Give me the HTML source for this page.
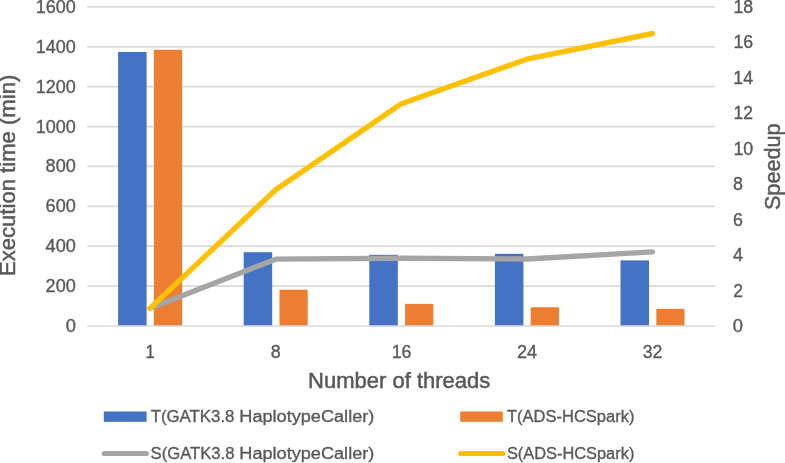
<!DOCTYPE html>
<html lang="en"><head><meta charset="utf-8"><title>Execution time and speedup</title>
<style>
html,body{margin:0;padding:0;background:#fff;overflow:hidden}
svg{display:block}
text{font-family:"Liberation Sans", Arial, Helvetica, sans-serif;fill:#595959;stroke:#595959;stroke-width:0.35px}
.tick{font-size:18px}
.leg{font-size:17.3px}
.ttl{font-size:21.7px;stroke-width:0.5px}
</style></head><body>
<svg width="785" height="463" viewBox="0 0 785 463">
<rect width="785" height="463" fill="#ffffff"/>

<line x1="87.3" x2="715.3" y1="286.11" y2="286.11" stroke="#d9d9d9" stroke-width="1.7"/>
<line x1="87.3" x2="715.3" y1="246.22" y2="246.22" stroke="#d9d9d9" stroke-width="1.7"/>
<line x1="87.3" x2="715.3" y1="206.34" y2="206.34" stroke="#d9d9d9" stroke-width="1.7"/>
<line x1="87.3" x2="715.3" y1="166.45" y2="166.45" stroke="#d9d9d9" stroke-width="1.7"/>
<line x1="87.3" x2="715.3" y1="126.56" y2="126.56" stroke="#d9d9d9" stroke-width="1.7"/>
<line x1="87.3" x2="715.3" y1="86.67" y2="86.67" stroke="#d9d9d9" stroke-width="1.7"/>
<line x1="87.3" x2="715.3" y1="46.79" y2="46.79" stroke="#d9d9d9" stroke-width="1.7"/>
<line x1="87.3" x2="715.3" y1="6.90" y2="6.90" stroke="#d9d9d9" stroke-width="1.7"/>
<rect x="118.10" y="51.97" width="28.5" height="274.03" fill="#4472c4"/>
<rect x="153.90" y="49.78" width="28.2" height="276.22" fill="#ed7d31"/>
<rect x="243.70" y="252.21" width="28.5" height="73.79" fill="#4472c4"/>
<rect x="279.50" y="289.70" width="28.2" height="36.30" fill="#ed7d31"/>
<rect x="369.30" y="254.80" width="28.5" height="71.20" fill="#4472c4"/>
<rect x="405.10" y="303.86" width="28.2" height="22.14" fill="#ed7d31"/>
<rect x="494.90" y="253.80" width="28.5" height="72.20" fill="#4472c4"/>
<rect x="530.70" y="307.25" width="28.2" height="18.75" fill="#ed7d31"/>
<rect x="620.50" y="260.39" width="28.5" height="65.61" fill="#4472c4"/>
<rect x="656.30" y="308.85" width="28.2" height="17.15" fill="#ed7d31"/>
<line x1="87.3" x2="715.3" y1="326.00" y2="326.00" stroke="#d9d9d9" stroke-width="1.7"/>
<polyline points="150.10,308.27 275.70,259.17 401.30,258.28 526.90,258.99 652.50,251.90" fill="none" stroke="#a5a5a5" stroke-width="5.4" stroke-linecap="round" stroke-linejoin="round"/>
<polyline points="150.10,308.27 275.70,189.67 401.30,103.69 526.90,59.20 652.50,33.49" fill="none" stroke="#ffc000" stroke-width="5.4" stroke-linecap="round" stroke-linejoin="round"/>
<text class="tick" x="65.68" y="332.00" textLength="10.20" lengthAdjust="spacingAndGlyphs">0</text>
<text class="tick" x="45.63" y="292.11" textLength="30.20" lengthAdjust="spacingAndGlyphs">200</text>
<text class="tick" x="45.57" y="252.22" textLength="30.26" lengthAdjust="spacingAndGlyphs">400</text>
<text class="tick" x="45.63" y="212.34" textLength="30.20" lengthAdjust="spacingAndGlyphs">600</text>
<text class="tick" x="45.61" y="172.45" textLength="30.22" lengthAdjust="spacingAndGlyphs">800</text>
<text class="tick" x="35.76" y="132.56" textLength="40.06" lengthAdjust="spacingAndGlyphs">1000</text>
<text class="tick" x="35.76" y="92.67" textLength="40.06" lengthAdjust="spacingAndGlyphs">1200</text>
<text class="tick" x="35.76" y="52.79" textLength="40.06" lengthAdjust="spacingAndGlyphs">1400</text>
<text class="tick" x="35.76" y="12.90" textLength="40.06" lengthAdjust="spacingAndGlyphs">1600</text>
<text class="tick" x="732.87" y="332.00" textLength="10.20" lengthAdjust="spacingAndGlyphs">0</text>
<text class="tick" x="733.13" y="296.54" textLength="9.67" lengthAdjust="spacingAndGlyphs">2</text>
<text class="tick" x="733.04" y="261.09" textLength="10.03" lengthAdjust="spacingAndGlyphs">4</text>
<text class="tick" x="733.11" y="225.63" textLength="9.91" lengthAdjust="spacingAndGlyphs">6</text>
<text class="tick" x="733.09" y="190.18" textLength="9.94" lengthAdjust="spacingAndGlyphs">8</text>
<text class="tick" x="733.38" y="154.72" textLength="19.80" lengthAdjust="spacingAndGlyphs">10</text>
<text class="tick" x="733.39" y="119.27" textLength="19.55" lengthAdjust="spacingAndGlyphs">12</text>
<text class="tick" x="733.37" y="83.81" textLength="19.82" lengthAdjust="spacingAndGlyphs">14</text>
<text class="tick" x="733.38" y="48.36" textLength="19.77" lengthAdjust="spacingAndGlyphs">16</text>
<text class="tick" x="733.38" y="12.90" textLength="19.77" lengthAdjust="spacingAndGlyphs">18</text>
<text class="tick" x="145.59" y="357.50" textLength="9.31" lengthAdjust="spacingAndGlyphs">1</text>
<text class="tick" x="270.82" y="357.50" textLength="9.94" lengthAdjust="spacingAndGlyphs">8</text>
<text class="tick" x="391.64" y="357.50" textLength="19.77" lengthAdjust="spacingAndGlyphs">16</text>
<text class="tick" x="516.96" y="357.50" textLength="20.10" lengthAdjust="spacingAndGlyphs">24</text>
<text class="tick" x="642.76" y="357.50" textLength="19.65" lengthAdjust="spacingAndGlyphs">32</text>
<text class="ttl" x="308.04" y="387.70" textLength="182.27" lengthAdjust="spacingAndGlyphs">Number of threads</text>
<g transform="translate(15.2,274.3) rotate(-90)"><text class="ttl" x="-1.77" y="0.00" textLength="201.37" lengthAdjust="spacingAndGlyphs">Execution time (min)</text></g>
<g transform="translate(780.3,209.0) rotate(-90)"><text class="ttl" x="-1.08" y="0.00" textLength="86.73" lengthAdjust="spacingAndGlyphs">Speedup</text></g>
<rect x="103.8" y="411.5" width="42.8" height="10.3" fill="#4472c4"/>
<rect x="460.2" y="411.5" width="42.6" height="10.3" fill="#ed7d31"/>
<line x1="104.3" x2="146.3" y1="453.5" y2="453.5" stroke="#a5a5a5" stroke-width="5.2" stroke-linecap="round"/>
<line x1="460.7" x2="502.9" y1="453.5" y2="453.5" stroke="#ffc000" stroke-width="5.2" stroke-linecap="round"/>
<text class="leg" y="422.2"><tspan x="150.66" textLength="83.75" lengthAdjust="spacingAndGlyphs">T(GATK3.8</tspan> <tspan x="239.35" textLength="134.97" lengthAdjust="spacingAndGlyphs">HaplotypeCaller)</tspan></text>
<text class="leg" x="506.97" y="422.20" textLength="127.46" lengthAdjust="spacingAndGlyphs">T(ADS-HCSpark)</text>
<text class="leg" y="459.2"><tspan x="150.57" textLength="83.94" lengthAdjust="spacingAndGlyphs">S(GATK3.8</tspan> <tspan x="239.35" textLength="134.97" lengthAdjust="spacingAndGlyphs">HaplotypeCaller)</tspan></text>
<text class="leg" x="506.88" y="459.20" textLength="127.48" lengthAdjust="spacingAndGlyphs">S(ADS-HCSpark)</text>
</svg></body></html>
